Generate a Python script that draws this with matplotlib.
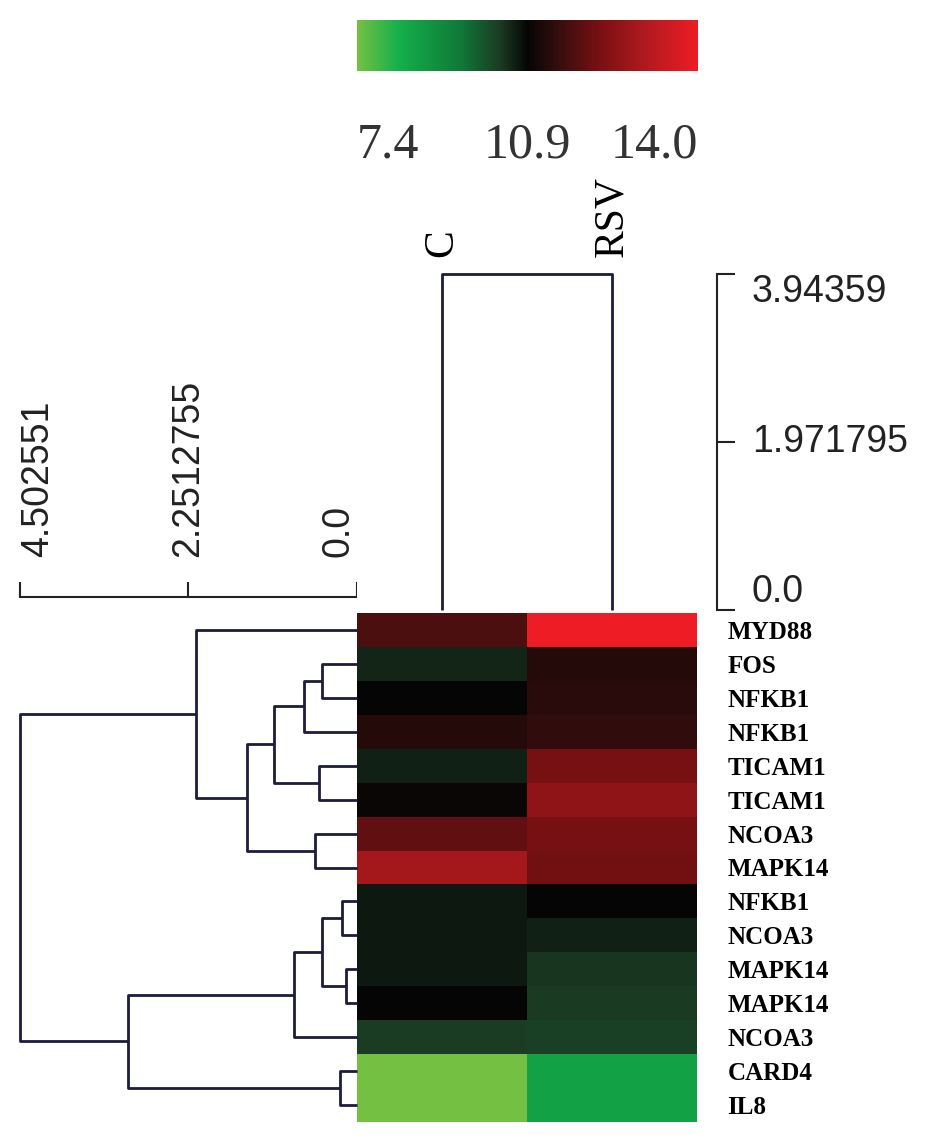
import numpy as np
import matplotlib
matplotlib.use('Agg')
import matplotlib.pyplot as plt
from matplotlib.colors import LinearSegmentedColormap, TwoSlopeNorm

# data
genes = ['MYD88', 'FOS', 'NFKB1', 'NFKB1', 'TICAM1', 'TICAM1', 'NCOA3', 'MAPK14',
         'NFKB1', 'NCOA3', 'MAPK14', 'MAPK14', 'NCOA3', 'CARD4', 'IL8']
samples = ['C', 'RSV']
c_vals = [11.7, 10.55, 10.9, 11.27, 10.62, 10.96, 11.95, 12.88,
          10.69, 10.69, 10.7, 10.9, 10.32, 7.4, 7.42]
rsv_vals = [14.0, 11.27, 11.33, 11.4, 12.2, 12.57, 12.2, 12.14,
            10.9, 10.62, 10.4, 10.34, 10.27, 8.6, 8.6]

# merges as (left, right, height); ids >= n point to earlier merges
row_merges = [(1, 2, 0.47), (15, 3, 0.71), (4, 5, 0.51), (16, 17, 1.11),
              (6, 7, 0.56), (18, 19, 1.47), (0, 20, 2.15),
              (8, 9, 0.20), (10, 11, 0.15), (22, 23, 0.47), (24, 12, 0.84),
              (13, 14, 0.23), (25, 26, 3.06), (21, 27, 4.502551)]
col_merges = [(0, 1, 3.94359)]

row_scale = [4.502551, 2.2512755, 0.0]
row_scale_labels = ['4.502551', '2.2512755', '0.0']
col_scale = [0.0, 1.971795, 3.94359]
col_scale_labels = ['0.0', '1.971795', '3.94359']
cbar_ticks = [7.4, 10.9, 14.0]
cbar_labels = ['7.4', '10.9', '14.0']

W, H = 945, 1138
def box(x0, y0, x1, y1):
    # pixel box (top-left origin) -> figure fraction
    return [x0 / W, 1 - y1 / H, (x1 - x0) / W, (y1 - y0) / H]

cmap = LinearSegmentedColormap.from_list('gbr', [
    (0.0, '#74c043'), (0.12, '#14b04b'), (0.3, '#0f7a38'), (0.42, '#1a3a22'),
    (0.5, '#050505'), (0.6, '#3a0e0e'), (0.72, '#7c1012'), (0.85, '#b01a1f'),
    (1.0, '#ee1c24')])
norm = TwoSlopeNorm(vcenter=10.9, vmin=7.4, vmax=14.0)

line_col = '#1c1c3c'

def draw_dendro(ax, merges, n, horizontal):
    pos = {i: i + 0.5 for i in range(n)}
    hgt = {i: 0.0 for i in range(n)}
    for k, (a, b, h) in enumerate(merges):
        hs = [hgt[a], h, h, hgt[b]]
        ps = [pos[a], pos[a], pos[b], pos[b]]
        if horizontal:
            ax.plot(hs, ps, color=line_col, lw=2.0, clip_on=False, solid_capstyle='butt')
        else:
            ax.plot(ps, hs, color=line_col, lw=2.0, clip_on=False, solid_capstyle='butt')
        pos[n + k] = (pos[a] + pos[b]) / 2
        hgt[n + k] = h

fig = plt.figure(figsize=(9.45, 11.38), dpi=100)

# heatmap
ax_h = fig.add_axes(box(357, 613, 697, 1122))
vals = np.column_stack([c_vals, rsv_vals])
mesh = ax_h.pcolormesh(np.arange(3), np.arange(len(genes) + 1), vals, cmap=cmap, norm=norm)
ax_h.set_xlim(0, 2)
ax_h.set_ylim(len(genes), 0)
for s in ax_h.spines.values():
    s.set_visible(False)
ax_h.set_xticks([])
ax_h.yaxis.tick_right()
ax_h.set_yticks(np.arange(len(genes)) + 0.5)
ax_h.set_yticklabels(genes, fontfamily='Liberation Serif', fontweight='bold', fontsize=18)
ax_h.tick_params(axis='y', length=0, pad=22)

# row dendrogram
ax_rd = fig.add_axes(box(20, 613, 357, 1122))
draw_dendro(ax_rd, row_merges, len(genes), True)
ax_rd.set_xlim(4.502551, 0)
ax_rd.set_ylim(len(genes), 0)
ax_rd.axis('off')

# row scale
ax_rs = fig.add_axes([20 / W, 1 - 597 / H, 337 / W, 0.0001])
ax_rs.set_xlim(4.502551, 0)
for s in ['left', 'right', 'top']:
    ax_rs.spines[s].set_visible(False)
ax_rs.spines['bottom'].set_linewidth(1.5)
ax_rs.spines['bottom'].set_color('#222222')
ax_rs.set_yticks([])
ax_rs.tick_params(axis='x', direction='in', length=11, width=1.5, color='#222222',
                  bottom=True, top=False, labelbottom=False, labeltop=True, pad=29)
ax_rs.set_xticks(row_scale)
ax_rs.set_xticklabels(row_scale_labels, rotation=90, fontsize=27,
                      fontfamily='Liberation Sans', color='#222222')
for t, ha in zip(ax_rs.xaxis.get_major_ticks(), ['left', 'center', 'right']):
    t.label2.set_ha(ha)

# column dendrogram
ax_cd = fig.add_axes(box(357, 274, 697, 610))
draw_dendro(ax_cd, col_merges, len(samples), False)
ax_cd.set_xlim(0, 2)
ax_cd.set_ylim(0, 3.94359)
for s in ax_cd.spines.values():
    s.set_visible(False)
ax_cd.set_yticks([])
ax_cd.xaxis.tick_top()
ax_cd.set_xticks([0.5, 1.5])
ax_cd.set_xticklabels(samples, rotation=90, fontsize=30, fontfamily='Liberation Serif')
ax_cd.tick_params(axis='x', length=0, pad=12)

# column scale
ax_cs = fig.add_axes([717 / W, 1 - 610 / H, 0.0001, 336 / H])
ax_cs.set_ylim(0, 3.94359)
for s in ['bottom', 'right', 'top']:
    ax_cs.spines[s].set_visible(False)
ax_cs.spines['left'].set_linewidth(1.5)
ax_cs.spines['left'].set_color('#222222')
ax_cs.set_xticks([])
ax_cs.tick_params(axis='y', direction='in', length=13, width=1.5, color='#222222',
                  left=True, right=False, labelleft=False, labelright=True, pad=25)
ax_cs.set_yticks(col_scale)
ax_cs.set_yticklabels(col_scale_labels, fontsize=27, fontfamily='Liberation Sans', color='#222222')
for t, va in zip(ax_cs.yaxis.get_major_ticks(), ['bottom', 'center', 'top']):
    t.label2.set_va(va)

# colour bar
ax_cb = fig.add_axes(box(357, 20, 698, 71))
cb = fig.colorbar(mesh, cax=ax_cb, orientation='horizontal', ticks=cbar_ticks)
cb.outline.set_visible(False)
cb.set_ticklabels(cbar_labels)
ax_cb.tick_params(axis='x', length=0, pad=37, labelsize=36, labelcolor='#333333')
for t, ha in zip(ax_cb.get_xticklabels(), ['left', 'center', 'right']):
    t.set_fontfamily('Liberation Serif')
    t.set_ha(ha)

fig.savefig('out.png', dpi=100)
